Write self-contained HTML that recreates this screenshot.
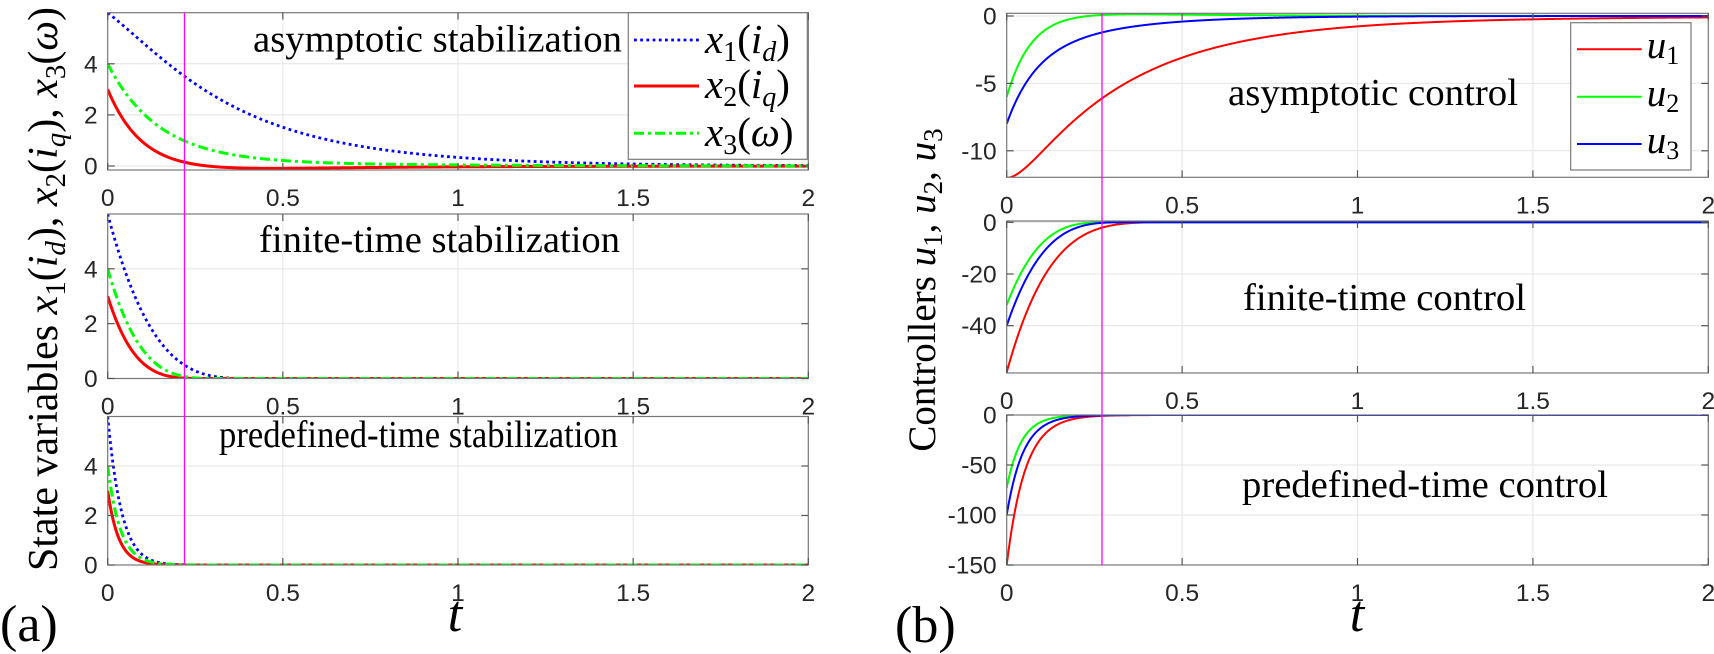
<!DOCTYPE html>
<html><head><meta charset="utf-8"><style>
html,body{margin:0;padding:0;background:#fff;}
svg{display:block;}
</style></head><body>
<svg id="c" xmlns="http://www.w3.org/2000/svg" width="1714" height="654" viewBox="0 0 1714 654">
<rect x="0" y="0" width="1714" height="654" fill="#fff"/>
<g id="plots"></g>
<!-- panel titles -->
<g font-family="'Liberation Serif', 'DejaVu Serif', serif" font-size="38" fill="#000">
<text x="253" y="51.5" textLength="369" lengthAdjust="spacingAndGlyphs">asymptotic stabilization</text>
<text x="259" y="252" textLength="361" lengthAdjust="spacingAndGlyphs">finite-time stabilization</text>
<text x="219" y="447" textLength="399" lengthAdjust="spacingAndGlyphs">predefined-time stabilization</text>
<text x="1228" y="105" textLength="290" lengthAdjust="spacingAndGlyphs">asymptotic control</text>
<text x="1243" y="310" textLength="283" lengthAdjust="spacingAndGlyphs">finite-time control</text>
<text x="1242" y="497" textLength="366" lengthAdjust="spacingAndGlyphs">predefined-time control</text>
</g>
<!-- left legend -->
<g>
<rect x="628.3" y="12.7" width="179" height="146.6" fill="#fff" stroke="#7a7a7a" stroke-width="1.2"/>
<line x1="634" y1="40" x2="699" y2="40" stroke="#0000ff" stroke-width="2.8" stroke-dasharray="2.8 3.4"/>
<line x1="634" y1="86" x2="699" y2="86" stroke="#ff0000" stroke-width="3"/>
<line x1="634" y1="133.3" x2="699" y2="133.3" stroke="#00ff00" stroke-width="3" stroke-dasharray="10 4 3 4"/>
<g font-family="'Liberation Serif', 'DejaVu Serif', serif" font-size="41" fill="#000">
<text x="705" y="53"><tspan font-style="italic">x</tspan><tspan font-size="28" dy="8">1</tspan><tspan dy="-8">(</tspan><tspan font-style="italic">i</tspan><tspan font-style="italic" font-size="28" dy="8">d</tspan><tspan dy="-8">)</tspan></text>
<text x="705" y="98"><tspan font-style="italic">x</tspan><tspan font-size="28" dy="8">2</tspan><tspan dy="-8">(</tspan><tspan font-style="italic">i</tspan><tspan font-style="italic" font-size="28" dy="8">q</tspan><tspan dy="-8">)</tspan></text>
<text x="705" y="146"><tspan font-style="italic">x</tspan><tspan font-size="28" dy="8">3</tspan><tspan dy="-8">(</tspan><tspan font-style="italic">ω</tspan><tspan>)</tspan></text>
</g>
</g>
<!-- right legend -->
<g>
<rect x="1570.7" y="22.7" width="120.3" height="147.3" fill="#fff" stroke="#7a7a7a" stroke-width="1.2"/>
<line x1="1577" y1="49.3" x2="1641.7" y2="49.3" stroke="#ff0000" stroke-width="2"/>
<line x1="1577" y1="96.7" x2="1641.7" y2="96.7" stroke="#00ff00" stroke-width="2"/>
<line x1="1577" y1="144" x2="1641.7" y2="144" stroke="#0000ff" stroke-width="2"/>
<g font-family="'Liberation Serif', 'DejaVu Serif', serif" font-size="39" fill="#000">
<text x="1646.7" y="58"><tspan font-style="italic">u</tspan><tspan font-size="26" dy="6">1</tspan></text>
<text x="1646.7" y="106"><tspan font-style="italic">u</tspan><tspan font-size="26" dy="6">2</tspan></text>
<text x="1646.7" y="153"><tspan font-style="italic">u</tspan><tspan font-size="26" dy="6">3</tspan></text>
</g>
</g>
<!-- y labels -->
<g font-family="'Liberation Serif', 'DejaVu Serif', serif" fill="#000">
<text transform="translate(57,289) rotate(-90)" text-anchor="middle" font-size="42">State variables <tspan font-style="italic">x</tspan><tspan font-size="29" dy="8">1</tspan><tspan dy="-8">(</tspan><tspan font-style="italic">i</tspan><tspan font-style="italic" font-size="29" dy="8">d</tspan><tspan dy="-8">), </tspan><tspan font-style="italic">x</tspan><tspan font-size="29" dy="8">2</tspan><tspan dy="-8">(</tspan><tspan font-style="italic">i</tspan><tspan font-style="italic" font-size="29" dy="8">q</tspan><tspan dy="-8">), </tspan><tspan font-style="italic">x</tspan><tspan font-size="29" dy="8">3</tspan><tspan dy="-8">(</tspan><tspan font-style="italic">ω</tspan><tspan>)</tspan></text>
<text transform="translate(935,290) rotate(-90)" text-anchor="middle" font-size="39">Controllers <tspan font-style="italic">u</tspan><tspan font-size="27" dy="7">1</tspan><tspan dy="-7">, </tspan><tspan font-style="italic">u</tspan><tspan font-size="27" dy="7">2</tspan><tspan dy="-7">, </tspan><tspan font-style="italic">u</tspan><tspan font-size="27" dy="7">3</tspan></text>
<text x="455" y="631" text-anchor="middle" font-size="52" font-style="italic">t</text>
<text x="1357" y="631" text-anchor="middle" font-size="52" font-style="italic">t</text>
<text x="0" y="641" font-size="52">(a)</text>
<text x="895" y="642" font-size="52">(b)</text>
</g>
</svg>
<script>
(function(){
var sides={L:[107.7,808.3],R:[1006.7,1708.3]};
function pw(t,T,p){var u=1-t/T;return u>0?Math.pow(u,p):0;}
var E=Math.exp;
var P=[
 {s:'L',top:12.7,bot:170,z:166,k:25.55,yt:[0,2,4],c:[
   {f:function(t){return 6*E(-(2.9*t-1.1*t*E(-4*t)));},col:'#0000ff',w:2.8,d:'2.8 3.4'},
   {f:function(t){return 3.4*E(-10*t)-0.4*E(-2.5*t);},col:'#ff0000',w:3,d:''},
   {f:function(t){return 4*(0.93*E(-7*t)+0.07*E(-2*t));},col:'#00ff00',w:3,d:'10 4 3 4'}]},
 {s:'L',top:214,bot:378.5,z:378.5,k:27.42,yt:[0,2,4],c:[
   {f:function(t){return 6*pw(t,0.42,3.4);},col:'#0000ff',w:2.8,d:'2.8 3.4'},
   {f:function(t){return 3*pw(t,0.3,4.1);},col:'#ff0000',w:3,d:''},
   {f:function(t){return 4*pw(t,0.33,3.7);},col:'#00ff00',w:3,d:'10 4 3 4'}]},
 {s:'L',top:416.5,bot:565,z:565,k:24.75,yt:[0,2,4],c:[
   {f:function(t){return 6*E(-25*t-20*t*t);},col:'#0000ff',w:2.8,d:'2.8 3.4'},
   {f:function(t){return 3*E(-32*t);},col:'#ff0000',w:3,d:''},
   {f:function(t){return 4*E(-28*t);},col:'#00ff00',w:3,d:'10 4 3 4'}]},
 {s:'R',top:13.3,bot:177.3,z:16,k:13.48,yt:[0,-5,-10],c:[
   {f:function(t){return -(13.5*E(-3.2*t)+0.6*E(-t)-2.1*E(-20.9*t));},col:'#ff0000',w:2,d:''},
   {f:function(t){return -6.5*E(-14*t)+0.5*E(-3*t);},col:'#00ff00',w:2,d:''},
   {f:function(t){return -(4.5*E(-13*t)+3.5*E(-4.3*t));},col:'#0000ff',w:2,d:''}]},
 {s:'R',top:221,bot:373,z:222.3,k:2.585,yt:[0,-20,-40],c:[
   {f:function(t){return -58*pw(t,0.5,4.25);},col:'#ff0000',w:2,d:''},
   {f:function(t){return -32*pw(t,0.3,3.35);},col:'#00ff00',w:2,d:''},
   {f:function(t){return -40*pw(t,0.35,3.5);},col:'#0000ff',w:2,d:''}]},
 {s:'R',top:415,bot:565,z:415,k:1,yt:[0,-50,-100,-150],c:[
   {f:function(t){return -150*E(-19*t);},col:'#ff0000',w:2,d:''},
   {f:function(t){return -73*E(-24*t);},col:'#00ff00',w:2,d:''},
   {f:function(t){return -100*E(-21*t);},col:'#0000ff',w:2,d:''}]}
];
var o='';
P.forEach(function(p,i){
 var x0=sides[p.s][0],x1=sides[p.s][1];
 var X=function(t){return x0+(x1-x0)*t/2;};
 var Y=function(v){return p.z-p.k*v;};
 o+='<clipPath id="cp'+i+'"><rect x="'+x0+'" y="'+p.top+'" width="'+(x1-x0)+'" height="'+(p.bot-p.top)+'"/></clipPath>';
 o+='<rect x="'+x0+'" y="'+p.top+'" width="'+(x1-x0)+'" height="'+(p.bot-p.top)+'" fill="#fff"/>';
 [0.5,1,1.5].forEach(function(t){o+='<line x1="'+X(t)+'" y1="'+p.top+'" x2="'+X(t)+'" y2="'+p.bot+'" stroke="#e4e4e4" stroke-width="1"/>';});
 p.yt.forEach(function(v){var y=Y(v);if(y>p.top+1&&y<p.bot-1)o+='<line x1="'+x0+'" y1="'+y+'" x2="'+x1+'" y2="'+y+'" stroke="#e4e4e4" stroke-width="1"/>';});
 o+='<g clip-path="url(#cp'+i+')">';
 p.c.forEach(function(c){
  var d='',N=2000;
  for(var j=0;j<=N;j++){var t=2*j/N;d+=(j?'L':'M')+X(t).toFixed(2)+' '+Y(c.f(t)).toFixed(2);}
  o+='<path d="'+d+'" fill="none" stroke="'+c.col+'" stroke-width="'+c.w+'"'+(c.d?' stroke-dasharray="'+c.d+'"':'')+' stroke-linejoin="round"/>';
 });
 o+='</g>';
 o+='<rect x="'+x0+'" y="'+p.top+'" width="'+(x1-x0)+'" height="'+(p.bot-p.top)+'" fill="none" stroke="#777" stroke-width="1.2"/>';
 [0,0.5,1,1.5,2].forEach(function(t){var x=X(t);
  o+='<line x1="'+x+'" y1="'+p.bot+'" x2="'+x+'" y2="'+(p.bot-7)+'" stroke="#555" stroke-width="1.2"/>';
  o+='<line x1="'+x+'" y1="'+p.top+'" x2="'+x+'" y2="'+(p.top+7)+'" stroke="#555" stroke-width="1.2"/>';
  o+='<text x="'+x+'" y="'+(p.bot+36)+'" text-anchor="middle" font-family="\'Liberation Sans\', Arial, sans-serif" font-size="24.5" fill="#262626">'+t+'</text>';
 });
 p.yt.forEach(function(v){var y=Y(v);
  o+='<line x1="'+x0+'" y1="'+y+'" x2="'+(x0+7)+'" y2="'+y+'" stroke="#555" stroke-width="1.2"/>';
  o+='<line x1="'+(x1-7)+'" y1="'+y+'" x2="'+x1+'" y2="'+y+'" stroke="#555" stroke-width="1.2"/>';
  o+='<text x="'+(x0-10)+'" y="'+(y+8.5)+'" text-anchor="end" font-family="\'Liberation Sans\', Arial, sans-serif" font-size="24.5" fill="#262626">'+v+'</text>';
 });
});
o+='<line x1="184.5" y1="12.7" x2="184.5" y2="565" stroke="#ff00ff" stroke-width="1.3"/>';
o+='<line x1="1102" y1="13.3" x2="1102" y2="565" stroke="#ff00ff" stroke-width="1.3"/>';
document.getElementById('plots').innerHTML=o;
})();
</script>
</body></html>
